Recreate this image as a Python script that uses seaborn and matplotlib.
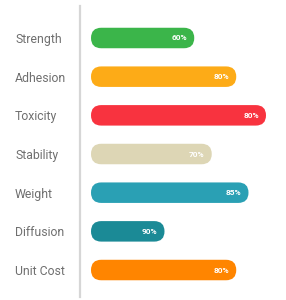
import matplotlib
matplotlib.use("Agg")
import matplotlib.pyplot as plt
import seaborn as sns
import pandas as pd
from matplotlib.patches import FancyBboxPatch

categories = ["Strength", "Adhesion", "Toxicity", "Stability", "Weight", "Diffusion", "Unit Cost"]
values = [59, 83, 100, 69, 90, 42, 83]
value_labels = ["60%", "80%", "80%", "70%", "85%", "90%", "80%"]
colors = ["#3bb54a", "#fdab17", "#f8333f", "#ddd6b5", "#2aa0b4", "#1b8a96", "#ff8500"]

df = pd.DataFrame({"category": categories, "value": values})

sns.set_style("white")
plt.rcParams["font.family"] = ["Roboto", "DejaVu Sans"]

W, H = 286, 300
fig = plt.figure(figsize=(W / 100, H / 100), dpi=100)
ax = fig.add_axes([80 / W, 3 / H, (286 - 80) / W, (294 - 3) / H])

sns.barplot(data=df, x="value", y="category", hue="category", palette=colors,
            order=categories, hue_order=categories, legend=False, width=0.53,
            orient="h", ax=ax, linewidth=0, saturation=1)

px_per_x = 1.75
ax.set_xlim(-11 / px_per_x, (286 - 91) / px_per_x)
sp = 38.67
ax.set_ylim((297 - 38) / sp, (6 - 38) / sp)

# Replace rectangles with rounded bars
ax_w = ax.get_position().width * W
ax_h = ax.get_position().height * H
x0, x1 = ax.get_xlim()
y1, y0 = ax.get_ylim()
xu_per_px = (x1 - x0) / ax_w
yu_per_px = abs(y1 - y0) / ax_h
aspect = yu_per_px / xu_per_px
for p in list(ax.patches):
    x, y = p.get_x(), p.get_y()
    w, h = p.get_width(), p.get_height()
    fc = p.get_facecolor()
    p.set_visible(False)
    r = (abs(h) / aspect) / 2
    fb = FancyBboxPatch((x, y), w, h, boxstyle=f"round,pad=0,rounding_size={r}",
                        mutation_aspect=aspect, facecolor=fc, edgecolor="none")
    ax.add_patch(fb)

for i, (v, lab) in enumerate(zip(values, value_labels)):
    ax.text(v - 4, i, lab, ha="right", va="center", color="white",
            fontsize=6, fontweight="bold")

ax.set_xlabel("")
ax.set_ylabel("")
ax.set_xticks([])
ax.tick_params(axis="y", length=0, pad=65 * 0.72, labelsize=8.8, labelcolor="#6f6f6f")
for t in ax.get_yticklabels():
    t.set_ha("left")

for s in ["top", "right", "bottom"]:
    ax.spines[s].set_visible(False)
ax.spines["left"].set_color("#d6d6d6")
ax.spines["left"].set_linewidth(1.6)

fig.savefig("out.png", dpi=100)
